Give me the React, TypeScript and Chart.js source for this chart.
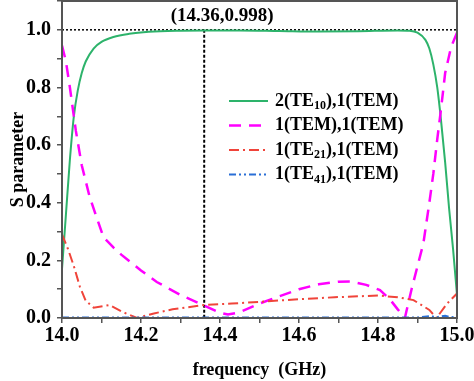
import React, { useEffect, useRef } from "react";
import { Chart, registerables } from "chart.js";

Chart.register(...registerables);

// ---- data ----
const greenFreq = [14.0, 14.01, 14.02, 14.03, 14.04, 14.05, 14.06, 14.08, 14.1, 14.13, 14.17, 14.22, 14.3, 14.36, 14.45, 14.55, 14.65, 14.75, 14.85, 14.88, 14.9, 14.92, 14.93, 14.94, 14.95, 14.96, 14.97, 14.98, 14.99, 15.0];
const greenVals = [0.17, 0.36, 0.55, 0.7, 0.79, 0.85, 0.89, 0.935, 0.958, 0.975, 0.986, 0.993, 0.997, 0.998, 0.998, 0.996, 0.994, 0.995, 0.998, 0.997, 0.99, 0.965, 0.935, 0.88, 0.8, 0.68, 0.54, 0.38, 0.24, 0.08];

const magFreq = [14.0, 14.01, 14.02, 14.035, 14.05, 14.07, 14.09, 14.105, 14.13, 14.15, 14.2, 14.24, 14.3, 14.36, 14.4, 14.42, 14.45, 14.5, 14.55, 14.6, 14.65, 14.7, 14.73, 14.77, 14.805, 14.83, 14.85, 14.868, 14.885, 14.9, 14.915, 14.93, 14.94, 14.95, 14.96, 14.97, 14.985, 15.0];
const magVals = [0.945, 0.89, 0.8, 0.65, 0.53, 0.42, 0.34, 0.28, 0.245, 0.22, 0.165, 0.125, 0.08, 0.043, 0.018, 0.012, 0.02, 0.05, 0.075, 0.1, 0.117, 0.126, 0.127, 0.115, 0.097, 0.065, 0.03, 0.0, 0.1, 0.18, 0.26, 0.4, 0.5, 0.62, 0.73, 0.85, 0.94, 0.99];

const redFreq = [14.0, 14.015, 14.03, 14.045, 14.06, 14.08, 14.12, 14.155, 14.19, 14.23, 14.28, 14.36, 14.43, 14.52, 14.6, 14.69, 14.8, 14.85, 14.89, 14.93, 14.948, 14.975, 15.0];
const redVals = [0.29, 0.24, 0.18, 0.11, 0.06, 0.036, 0.045, 0.02, 0.0, 0.015, 0.03, 0.045, 0.05, 0.058, 0.065, 0.072, 0.078, 0.072, 0.062, 0.028, 0.0, 0.05, 0.085];

const blueFreq = [14.0, 14.2, 14.4, 14.6, 14.8, 14.9, 14.93, 14.95, 14.97, 14.98, 15.0];
const blueVals = [0.002, 0.002, 0.002, 0.002, 0.002, 0.002, 0.006, 0.003, 0.008, 0.004, 0.002];

const markerFreq = 14.36;
const markerLabel = "(14.36,0.998)";
const refLevel = 1.0;

type Seg = { t: string; sub?: boolean };
const legendItems: { segs: Seg[]; color: string; dash: number[]; width: number }[] = [
  { segs: [{ t: "2(TE" }, { t: "10", sub: true }, { t: "),1(TEM)" }], color: "#2db36b", dash: [], width: 2 },
  { segs: [{ t: "1(TEM),1(TEM)" }], color: "#ff00ff", dash: [12, 8], width: 2.5 },
  { segs: [{ t: "1(TE" }, { t: "21", sub: true }, { t: "),1(TEM)" }], color: "#f0443a", dash: [10, 4, 2, 4], width: 2 },
  { segs: [{ t: "1(TE" }, { t: "41", sub: true }, { t: "),1(TEM)" }], color: "#2a6fd6", dash: [7, 3, 2, 3, 2, 3], width: 2 },
];

const FONT = '"Liberation Serif", "Times New Roman", serif';

const toPts = (xs: number[], ys: number[]) => xs.map((x, i) => ({ x, y: ys[i] }));

const overlayPlugin = {
  id: "overlay",
  beforeDatasetsDraw(chart: any) {
    const { ctx, chartArea: a, scales } = chart;
    const xs = scales.x, ys = scales.y;
    ctx.save();
    ctx.strokeStyle = "#000";
    ctx.lineWidth = 1.5;
    ctx.setLineDash([2, 2]);
    const yp = ys.getPixelForValue(refLevel);
    ctx.beginPath();
    ctx.moveTo(a.left, yp);
    ctx.lineTo(a.right, yp);
    ctx.stroke();
    const xp = xs.getPixelForValue(markerFreq);
    ctx.lineWidth = 2;
    ctx.setLineDash([3, 2]);
    ctx.beginPath();
    ctx.moveTo(xp, yp);
    ctx.lineTo(xp, a.bottom);
    ctx.stroke();
    ctx.restore();
  },
  afterDraw(chart: any) {
    const { ctx, chartArea: a, scales } = chart;
    ctx.save();
    // frame
    ctx.strokeStyle = "#555";
    ctx.lineWidth = 2;
    ctx.setLineDash([]);
    ctx.strokeRect(a.left, a.top, a.right - a.left, a.bottom - a.top);
    // annotation
    const xp = scales.x.getPixelForValue(markerFreq);
    const yp = scales.y.getPixelForValue(refLevel);
    ctx.fillStyle = "#000";
    ctx.font = `bold 19px ${FONT}`;
    ctx.textAlign = "center";
    ctx.textBaseline = "middle";
    ctx.fillText(markerLabel, xp + 18, yp - 14);
    // legend
    const lx = a.left + 167;
    let ly = a.top + 100;
    const rowH = 24.5;
    ctx.textAlign = "left";
    for (const it of legendItems) {
      ctx.strokeStyle = it.color;
      ctx.lineWidth = it.width;
      ctx.setLineDash(it.dash);
      ctx.beginPath();
      ctx.moveTo(lx, ly);
      ctx.lineTo(lx + 39, ly);
      ctx.stroke();
      ctx.setLineDash([]);
      let tx = lx + 46;
      for (const s of it.segs) {
        if (s.sub) {
          ctx.font = `bold 12px ${FONT}`;
          ctx.fillText(s.t, tx, ly + 5);
        } else {
          ctx.font = `bold 18px ${FONT}`;
          ctx.fillText(s.t, tx, ly);
        }
        tx += ctx.measureText(s.t).width;
      }
      ly += rowH;
    }
    ctx.restore();
  },
};

export default function App() {
  const ref = useRef<HTMLCanvasElement | null>(null);
  useEffect(() => {
    if (!ref.current) return;
    const mk = (label: string, xs: number[], ys: number[], color: string, dash: number[], width: number, tension: number) => ({
      label,
      data: toPts(xs, ys),
      borderColor: color,
      backgroundColor: color,
      borderDash: dash,
      borderWidth: width,
      pointRadius: 0,
      showLine: true,
      tension,
      cubicInterpolationMode: tension > 0 ? "monotone" : "default",
      fill: false,
    });
    const chart = new Chart(ref.current, {
      type: "scatter",
      data: {
        datasets: [
          mk("1(TE41),1(TEM)", blueFreq, blueVals, legendItems[3].color, legendItems[3].dash, 2, 0),
          mk("1(TE21),1(TEM)", redFreq, redVals, legendItems[2].color, legendItems[2].dash, 2, 0),
          mk("1(TEM),1(TEM)", magFreq, magVals, legendItems[1].color, legendItems[1].dash, 2.5, 0),
          mk("2(TE10),1(TEM)", greenFreq, greenVals, legendItems[0].color, [], 2, 0.4),
        ] as any,
      },
      options: {
        animation: false,
        responsive: false,
        maintainAspectRatio: false,
        layout: { padding: { top: 1, right: 17, left: 0, bottom: 0 }, autoPadding: false } as any,
        plugins: { legend: { display: false }, tooltip: { enabled: false } },
        scales: {
          x: {
            type: "linear",
            min: 14,
            max: 15,
            afterFit: (s: any) => { s.height = 63; s.paddingLeft = 0; s.paddingRight = 0; },
            grid: { drawOnChartArea: false, drawTicks: true, tickLength: 5, color: "#555", lineWidth: 1.5 },
            border: { color: "#555", width: 2 },
            ticks: {
              stepSize: 0.1,
              autoSkip: false,
              maxRotation: 0,
              padding: 1,
              color: "#000",
              font: { family: FONT, size: 20, weight: "bold" },
              callback: (v: any) => (Math.round(v * 10) % 2 === 0 ? Number(v).toFixed(1) : ""),
            },
            title: {
              display: true,
              text: "frequency  (GHz)",
              color: "#000",
              font: { family: FONT, size: 18, weight: "bold" },
              padding: { top: 6, bottom: 0 },
            },
          },
          y: {
            type: "linear",
            min: 0,
            max: 1.1,
            afterFit: (s: any) => { s.width = 62; s.paddingTop = 0; s.paddingBottom = 0; },
            grid: { drawOnChartArea: false, drawTicks: true, tickLength: 5, color: "#555", lineWidth: 1.5 },
            border: { color: "#555", width: 2 },
            ticks: {
              stepSize: 0.1,
              autoSkip: false,
              padding: 6,
              color: "#000",
              font: { family: FONT, size: 20, weight: "bold" },
              callback: (v: any) => {
                const n = Math.round(v * 10);
                return n % 2 === 0 && n <= 10 ? Number(v).toFixed(1) : "";
              },
            },
            title: {
              display: true,
              text: "S parameter",
              color: "#000",
              font: { family: FONT, size: 18, weight: "bold" },
              padding: { top: 8, bottom: 0 },
            },
          },
        },
      } as any,
      plugins: [overlayPlugin],
    });
    return () => chart.destroy();
  }, []);
  return (
    <div style={{ position: "absolute", left: 0, top: 0, width: 474, height: 381, background: "#fff" }}>
      <canvas ref={ref} width={474} height={381} style={{ width: 474, height: 381 }} />
    </div>
  );
}
